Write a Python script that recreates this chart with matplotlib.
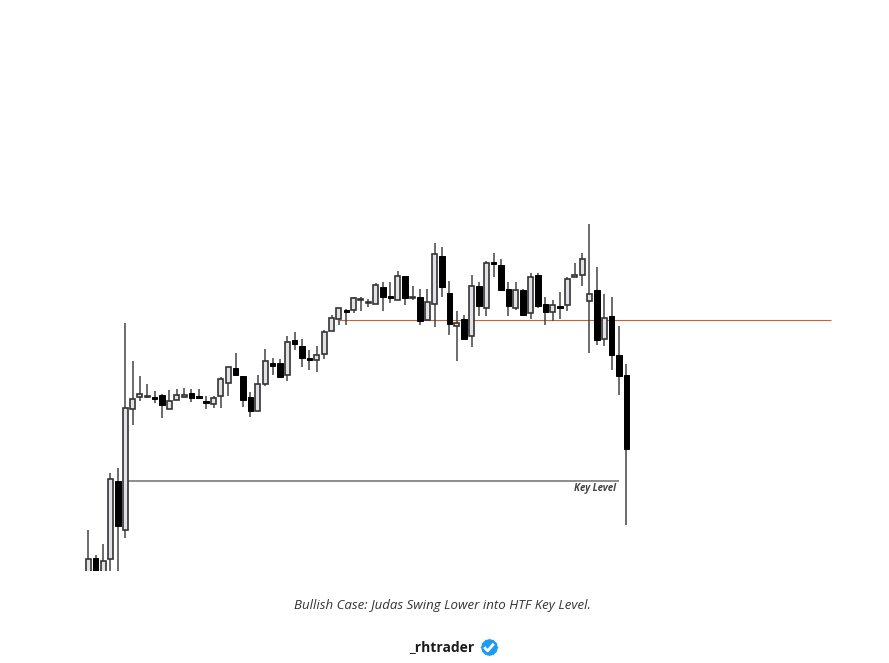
import numpy as np
import matplotlib
matplotlib.use("Agg")
import matplotlib.pyplot as plt

# all values, y axis runs downward like the image
highs = [530, 555, 544, 473, 468, 323, 361, 375.7, 384, 391, 394, 390, 389.3, 388, 389.3, 389.3, 396, 396, 377.3,
         366.7, 353.3, 375.7, 392, 375, 349.3, 357.7, 359.3, 336, 332, 339, 350, 346.3, 330.3, 315.3, 308.3, 309.3,
         296.7, 296.7, 299.3, 282.7, 282.3, 282.3, 270.7, 276.3, 286, 289.3, 289, 242.7, 247, 281, 311, 315.3, 275,
         282, 261.3, 253.3, 259.3, 282, 282, 289, 273.3, 273.3, 296.7, 300, 292.3, 277.3, 262.7, 253.3, 224.3, 267.3,
         294, 297.3, 326, 364.3]
lows = [590, 590, 590, 590, 590, 538, 425, 401, 398, 402.7, 418, 408.7, 400.3, 397.7, 402, 398.3, 408.7, 408.3, 408,
        396, 375, 407.3, 416.7, 411.3, 386, 374.7, 377.3, 381.3, 349.7, 366.7, 370.3, 372.3, 359, 331.3, 325.3, 324.7,
        312.7, 310.7, 307.3, 304, 310.7, 303.3, 300.3, 305, 300, 324.7, 320.7, 326.7, 297.3, 335, 360.7, 339, 346.7,
        316.3, 316.3, 276.7, 290.3, 315.7, 309.7, 315, 319, 308, 324.7, 320.7, 319, 310.7, 277.3, 286, 352.7, 345.3,
        346, 370.3, 395, 524.7]
body_top = [559, 558, 561, 479.3, 481, 407.7, 399, 394, 395.5, 397, 394.7, 401, 395, 394.7, 393.3, 396.3, 400.7, 398.3,
            379.3, 367.3, 368, 375.7, 397.3, 384.3, 361.3, 363, 363, 342.3, 339.7, 345.7, 358, 355.3, 332.3, 318.3,
            308.3, 309.7, 297.7, 299, 301.5, 285, 286.7, 296, 275.7, 276.3, 296.5, 297, 302.3, 254, 255.7, 292.7,
            323.3, 319, 286.3, 285.7, 263.3, 261.7, 265.3, 289.3, 290.3, 290, 277.3, 275.3, 304, 304.7, 305.7, 278.7,
            274.7, 259.3, 294.3, 290, 317.7, 315.7, 355.3, 375]
body_bottom = [590, 590, 590, 559.3, 526, 530, 408.7, 397, 396.5, 399, 404.7, 408.7, 400.3, 396.7, 398.3, 398.3, 402.7,
               404.3, 396.3, 383, 375, 400, 411.3, 411.3, 384, 366, 376.7, 375.3, 344.3, 358, 360, 359.7, 354.3, 331.3,
               319.3, 311.7, 310, 300, 302.5, 304, 297, 298, 300.3, 298, 297.5, 321, 319.5, 303.7, 286.7, 323.7, 325.7,
               339, 336.3, 305.7, 308.3, 263.7, 290.3, 305.7, 308.3, 315, 313.3, 306, 311.7, 312.3, 308, 305.3, 277.3,
               275.3, 301.3, 340, 339.3, 355.3, 376, 449.3]
black = [0, 1, 0, 0, 1, 0, 0, 0, 0, 1, 1, 0, 0, 0, 1, 1, 1, 0, 0, 0, 1, 1, 1, 0, 0, 1, 1, 0, 1, 1, 1, 0, 0, 0, 0, 1,
         0, 0, 0, 0, 1, 1, 0, 1, 0, 1, 0, 0, 1, 1, 0, 1, 0, 1, 0, 1, 1, 1, 0, 1, 0, 1, 1, 0, 1, 0, 0, 0, 0, 1, 0, 1, 1, 1]

key_level = 481
upper_level = 319.5
key_span = (5, 72)
upper_span = (34, 100.8)

W, H = 889, 663
fig = plt.figure(figsize=(W / 100, H / 100), dpi=100, facecolor="white")

# axes stops at y=571 so the first candles get cut off like in the picture
ax = fig.add_axes([0, (H - 571) / H, 1, 571 / H])
ax.set_xlim(-88.3 / 7.37, (W - 88.3) / 7.37)
ax.set_ylim(571, 0)
ax.axis("off")

xs = np.arange(len(highs))
tops = np.array(body_top)
bottoms = np.array(body_bottom)
blk = np.array(black) == 1

ax.hlines(key_level, *key_span, color="#6e6e6e", lw=1.1, zorder=1)
ax.hlines(upper_level, *upper_span, color="#c8622e", lw=0.8, zorder=1)

ax.vlines(xs, highs, lows, color="#444444", lw=1.1, zorder=2)
ax.bar(xs[~blk], (bottoms - tops)[~blk], bottom=tops[~blk], width=0.68,
       facecolor="#e2e2e6", edgecolor="#333333", linewidth=1.2, zorder=3)
ax.bar(xs[blk], (bottoms - tops)[blk], bottom=tops[blk], width=0.74,
       facecolor="black", edgecolor="black", linewidth=0.7, zorder=3)

# overlay in pixel coords for the texts and the badge
ov = fig.add_axes([0, 0, 1, 1])
ov.set_xlim(0, W)
ov.set_ylim(H, 0)
ov.axis("off")
ov.patch.set_alpha(0)

ov.text(615.5, 488.5, "Key Level", family="Open Sans", style="italic", weight="bold", fontsize=7,
        color="#444444", ha="right", va="center")
ov.text(442, 605.3, "Bullish Case: Judas Swing Lower into HTF Key Level.", family="Open Sans", style="italic",
        fontsize=9.55, color="#333333", ha="center", va="center")
ov.text(442, 647, "_rhtrader", family="Open Sans", weight="bold", fontsize=10, color="#1a1a1a",
        ha="center", va="center")

ov.scatter([489], [647], s=190, marker=(12, 1, 0), color="#1d9bf0", linewidths=0, zorder=4)
ov.scatter([489], [647], s=140, marker="o", color="#1d9bf0", linewidths=0, zorder=4)
ov.plot([484.2, 487.6, 493.8], [647.2, 650.8, 643.8], color="white", lw=2, zorder=5, solid_capstyle="butt")

fig.savefig("out.png", dpi=100, facecolor="white")
